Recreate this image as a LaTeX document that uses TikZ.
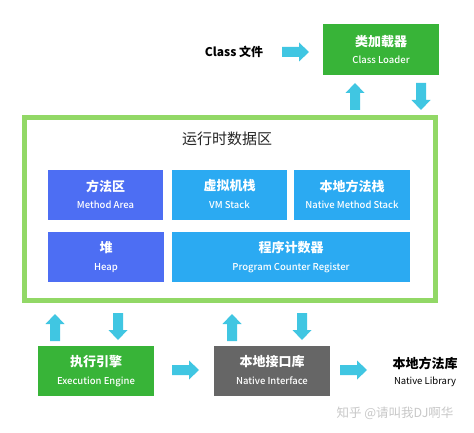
\documentclass[tikz,border=0pt]{standalone}
\usepackage{fontspec}
\setmainfont{Noto Sans CJK SC}
\newfontfamily\medfont{Noto Sans CJK SC}[UprightFont={* Medium}]
\usetikzlibrary{calc}
\definecolor{cgreen}{HTML}{38B438}
\definecolor{cframe}{HTML}{92D866}
\definecolor{cblue}{HTML}{4D6EF3}
\definecolor{csky}{HTML}{2BAAF2}
\definecolor{cgray}{HTML}{666666}
\definecolor{cacyan}{HTML}{40C6E2}
\definecolor{cwm}{HTML}{C8C8C8}
\newcommand{\zhb}{\fontsize{13}{15}\selectfont\bfseries}
\newcommand{\enm}{\medfont\fontsize{9.5}{11}\selectfont}
\newcommand{\barrow}[2]{\fill[cacyan, shift={#1}, rotate=#2] (0,-5) -- (17,-5) -- (17,-9.5) -- (27,0) -- (17,9.5) -- (17,5) -- (0,5) -- cycle;}
\begin{document}
\begin{tikzpicture}[x=1pt,y=-1pt,
  box/.style={rectangle, inner sep=0pt, minimum height=50pt},
  zh/.style={text=white, font=\zhb, inner sep=0pt},
  en/.style={text=white, font=\enm, inner sep=0pt, text height=7pt, text depth=2pt}]
\useasboundingbox (0,0) rectangle (474,433);
\fill[white] (0,0) rectangle (474,433);

% class loader
\node[box, fill=cgreen, minimum width=116pt, minimum height=51pt] (loader) at (381,49.5) {};
\node[zh] (loaderzh) at ($(loader.center)+(0,-7.5)$) {类加载器};
\node[en] (loaderen) at ($(loader.center)+(0,11.5)$) {Class Loader};
\node[font=\fontsize{12}{14}\selectfont\bfseries, inner sep=0pt] (classfile) at (234,52) {Class 文件};

% runtime data area
\node[draw=cframe, line width=5pt, minimum width=411pt, minimum height=183pt, inner sep=0pt] (rtda) at (230,209) {};
\node[font=\fontsize{15}{18}\selectfont, text=black!85, inner sep=0pt] (rtdatitle) at (227,139) {运行时数据区};

\node[box, fill=cblue, minimum width=115pt] (method) at (105.5,195) {};
\node[zh] at ($(method.center)+(0,-9)$) {方法区};
\node[en] at ($(method.center)+(0,10.5)$) {Method Area};

\node[box, fill=csky, minimum width=115pt] (vmstack) at (229.5,195) {};
\node[zh] at ($(vmstack.center)+(0,-9)$) {虚拟机栈};
\node[en] at ($(vmstack.center)+(0,10.5)$) {VM Stack};

\node[box, fill=csky, minimum width=116pt] (nstack) at (352,195) {};
\node[zh] at ($(nstack.center)+(0,-9)$) {本地方法栈};
\node[en] at ($(nstack.center)+(0,10.5)$) {Native Method Stack};

\node[box, fill=cblue, minimum width=116pt] (heap) at (106,257) {};
\node[zh] at ($(heap.center)+(0,-9)$) {堆};
\node[en] at ($(heap.center)+(0,10.5)$) {Heap};

\node[box, fill=csky, minimum width=238pt] (pc) at (291,257) {};
\node[zh] at ($(pc.center)+(0,-9)$) {程序计数器};
\node[en] at ($(pc.center)+(0,10.5)$) {Program Counter Register};

% bottom row
\node[box, fill=cgreen, minimum width=116pt] (engine) at (96,371) {};
\node[zh] at ($(engine.center)+(0,-9)$) {执行引擎};
\node[en] at ($(engine.center)+(0,10.5)$) {Execution Engine};

\node[box, fill=cgray, minimum width=116pt] (native) at (272,371) {};
\node[zh] at ($(native.center)+(0,-9)$) {本地接口库};
\node[en] at ($(native.center)+(0,10.5)$) {Native Interface};

\node[font=\zhb, inner sep=0pt] (nlibzh) at (425,363) {本地方法库};
\node[font=\fontsize{9.5}{11}\selectfont, inner sep=0pt, text height=7pt, text depth=2pt] (nliben) at (425,382) {Native Library};

\node[font=\fontsize{12.5}{14}\selectfont, text=cwm, inner sep=0pt] (wm) at (395,413) {知乎 @请叫我DJ啊华};

% block arrows
\barrow{(282,52)}{0}
\barrow{(355,110)}{90}
\barrow{(421,83)}{-90}
\barrow{(55,341)}{90}
\barrow{(118,313)}{-90}
\barrow{(232,341)}{90}
\barrow{(302,313)}{-90}
\barrow{(172,370)}{0}
\barrow{(340,370)}{0}
\end{tikzpicture}
\end{document}
